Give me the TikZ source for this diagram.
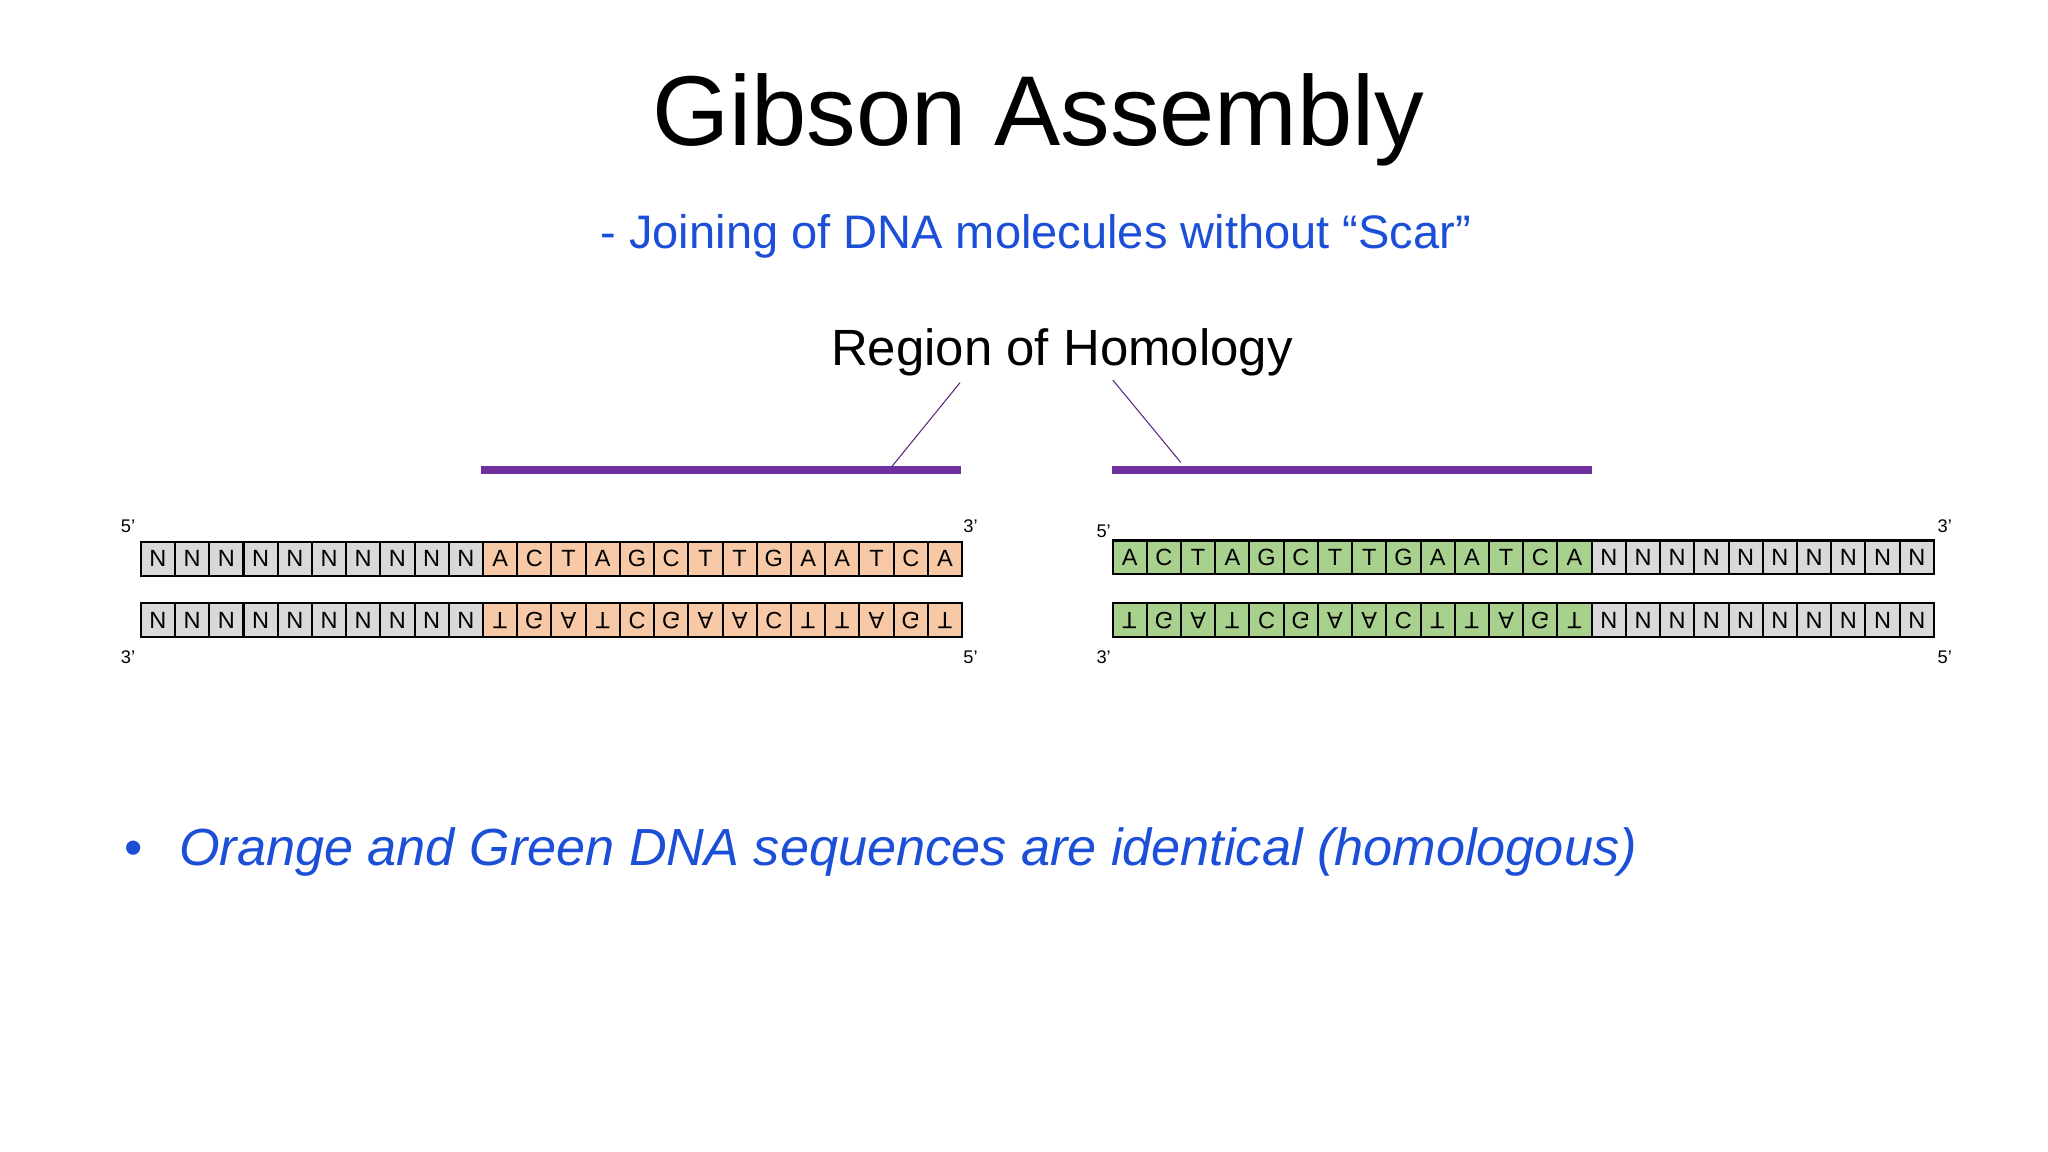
\documentclass[tikz,border=0pt]{standalone}
\usepackage{fontspec}
\setmainfont{Liberation Sans}
\definecolor{tblue}{HTML}{1C4FD8}
\definecolor{bgrey}{HTML}{D9D9D9}
\definecolor{borange}{HTML}{F8C9A6}
\definecolor{bgreen}{HTML}{A9D18E}
\definecolor{hpurple}{HTML}{7030A0}
\tikzset{x=0.5pt,y=-0.5pt,
 base/.style={draw=black,line width=0.8pt,minimum width=13.1pt,minimum height=13pt,inner sep=0pt,anchor=north west,font=\fontsize{9}{9}\selectfont},
 endlab/.style={font=\fontsize{7}{7}\selectfont},
 bar/.style={line width=3pt,draw=hpurple},
 pointer/.style={draw=hpurple!80!black,line width=0.4pt}}
\newcommand{\flipL}[1]{\scalebox{1}[-1]{#1}}
\begin{document}
\begin{tikzpicture}
\useasboundingbox[fill=white] (0,0) rectangle (1568,882);
\node (title) at (795,92) {\fontsize{38}{38}\selectfont Gibson Assembly};
\node[text=tblue] (sub) at (793,181) {\fontsize{18}{18}\selectfont - Joining of DNA molecules without “Scar”};
\node (reg) at (813,270) {\fontsize{19.5}{19.5}\selectfont Region of Homology};
\node[text=tblue,anchor=west] (bul) at (88,652) {\fontsize{20}{20}\selectfont •\hspace{14pt}\itshape Orange and Green DNA sequences are identical (homologous)};
% bars
\coordinate (b1a) at (368,360); \coordinate (b1b) at (736,360);
\coordinate (b2a) at (851,360); \coordinate (b2b) at (1219,360);
\draw[bar] (b1a) -- (b1b);
\draw[bar] (b2a) -- (b2b);
\coordinate (p1a) at (735,293); \coordinate (p1b) at (683,357);
\coordinate (p2a) at (852,291); \coordinate (p2b) at (904,354);
\draw[pointer] (p1a) -- (p1b);
\draw[pointer] (p2a) -- (p2b);
% left strands
\def\w{26.2}
\foreach \L [count=\i from 0] in {N,N,N,N,N,N,N,N,N,N,A,C,T,A,G,C,T,T,G,A,A,T,C,A}{
  \pgfmathsetmacro\xx{107+\i*\w}
  \ifnum\i<10 \def\fc{bgrey}\else\def\fc{borange}\fi
  \node[base,fill=\fc] (lt\i) at (\xx,414) {\L};}
\foreach \L [count=\i from 0] in {N,N,N,N,N,N,N,N,N,N,T,G,A,T,C,G,A,A,C,T,T,A,G,T}{
  \pgfmathsetmacro\xx{107+\i*\w}
  \ifnum\i<10 \node[base,fill=bgrey] (lb\i) at (\xx,461) {\L};
  \else \node[base,fill=borange] (lb\i) at (\xx,461) {\flipL{\L}};\fi}
% right strands
\foreach \L [count=\i from 0] in {A,C,T,A,G,C,T,T,G,A,A,T,C,A,N,N,N,N,N,N,N,N,N,N}{
  \pgfmathsetmacro\xx{851+\i*\w}
  \ifnum\i<14 \def\fc{bgreen}\else\def\fc{bgrey}\fi
  \node[base,fill=\fc] (rt\i) at (\xx,413) {\L};}
\foreach \L [count=\i from 0] in {T,G,A,T,C,G,A,A,C,T,T,A,G,T,N,N,N,N,N,N,N,N,N,N}{
  \pgfmathsetmacro\xx{851+\i*\w}
  \ifnum\i<14 \node[base,fill=bgreen] (rb\i) at (\xx,461) {\flipL{\L}};
  \else \node[base,fill=bgrey] (rb\i) at (\xx,461) {\L};\fi}
% end labels
\node[endlab] (l5a) at (98,403) {5’};
\node[endlab] (l3a) at (743,403) {3’};
\node[endlab] (l3b) at (98,503) {3’};
\node[endlab] (l5b) at (743,503) {5’};
\node[endlab] (r5a) at (845,407) {5’};
\node[endlab] (r3a) at (1489,403) {3’};
\node[endlab] (r3b) at (845,503) {3’};
\node[endlab] (r5b) at (1489,503) {5’};
\end{tikzpicture}
\end{document}
